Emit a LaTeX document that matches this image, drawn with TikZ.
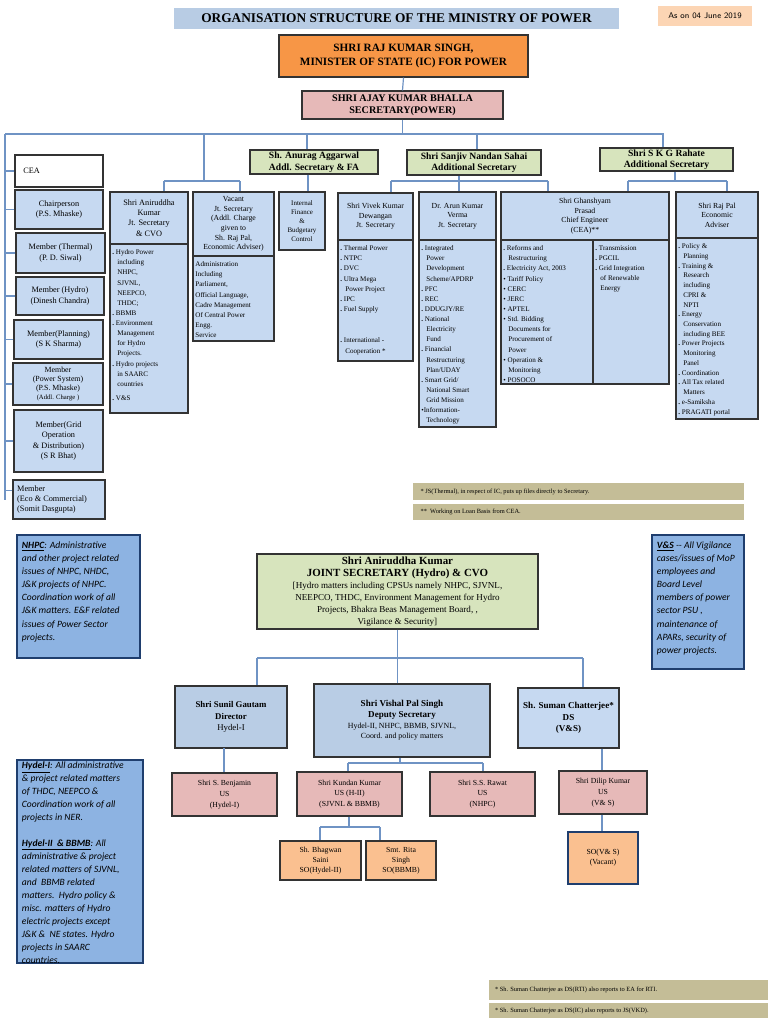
\documentclass[tikz,border=0pt]{standalone}
\usepackage{fontspec}
\setmainfont{Liberation Serif}
\newfontfamily\callfont{Carlito}
\usetikzlibrary{fit}
\definecolor{tblue}{HTML}{B8CCE4}
\definecolor{peach}{HTML}{FCD5B4}
\definecolor{orng}{HTML}{F79646}
\definecolor{pnk}{HTML}{E6B9B8}
\definecolor{grn}{HTML}{D7E4BD}
\definecolor{lblue}{HTML}{C6D9F1}
\definecolor{mblue}{HTML}{B9CDE5}
\definecolor{callb}{HTML}{8DB3E2}
\definecolor{callbd}{HTML}{1F3E6E}
\definecolor{khaki}{HTML}{C4BD97}
\definecolor{soor}{HTML}{FAC090}
\definecolor{lnc}{HTML}{6F93C4}
\newcommand\bx[8]{\node[#2,fit={(#3,#4)(#5,#6)},inner sep=0pt] (#1) {};
  \node[#7,align=center] at (#1.center) {#8};}
\newcommand\ind{\hspace*{0.7em}}
\newcommand\dt{\textbf{.}}
\newcommand\bul{\textbullet}
\begin{document}
\begin{tikzpicture}[x=0.75pt,y=-0.75pt,
  bd/.style={draw=black!80,line width=0.8pt},
  lb/.style={bd,fill=lblue},
  ln/.style={draw=lnc,line width=0.9pt},
  sm/.style={font=\fontsize{5.8}{7.2}\selectfont},
  smb/.style={font=\fontsize{6.2}{7.6}\selectfont},
  lst/.style={font=\fontsize{5.3}{7.6}\selectfont,align=left,anchor=north west,inner sep=1pt,yshift=-3.5pt,xshift=1pt},
  call/.style={font=\callfont\itshape\fontsize{7.2}{9.8}\selectfont,align=left,anchor=north west,inner sep=1pt},
  fn/.style={font=\fontsize{4.8}{6}\selectfont,anchor=west}]
\fill[white] (0,0) rectangle (768,1024);
\useasboundingbox (0,0) rectangle (768,1024);
% top
\bx{title}{fill=tblue}{174}{8}{619}{29}{font=\fontsize{10}{12}\selectfont\bfseries}{ORGANISATION STRUCTURE OF THE MINISTRY OF POWER}
\bx{ason}{fill=peach}{658}{6}{752}{26}{font=\fontsize{6.2}{7}\selectfont\sffamily}{As on 04 June 2019}
\bx{min}{bd,fill=orng}{279}{35}{528}{77}{font=\fontsize{8.4}{10.5}\selectfont\bfseries}{SHRI RAJ KUMAR SINGH,\\MINISTER OF STATE (IC) FOR POWER}
\bx{sec}{bd,fill=pnk}{302}{91}{503}{119}{font=\fontsize{7.6}{9.2}\selectfont\bfseries}{SHRI AJAY KUMAR BHALLA\\SECRETARY(POWER)}
\draw[ln] (min.south) -- (sec.north);
\bx{anu}{bd,fill=grn}{250}{150}{378}{174}{font=\fontsize{7.2}{8.6}\selectfont\bfseries}{Sh. Anurag Aggarwal\\Addl. Secretary \& FA}
\bx{san}{bd,fill=grn}{407}{150}{541}{175}{font=\fontsize{7.2}{8.6}\selectfont\bfseries}{Shri Sanjiv Nandan Sahai\\Additional Secretary}
\bx{rah}{bd,fill=grn}{600}{148}{733}{171}{font=\fontsize{7.2}{8.4}\selectfont\bfseries}{Shri S K G Rahate\\Additional Secretary}
\coordinate (busL) at (5,134); \coordinate (busR) at (663,134);
\coordinate (b1) at (204,134); \coordinate (b2) at (204,181);
\draw[ln] (sec.south) -- (sec.south |- busL);
\draw[ln] (busL) -- (busR) -- (rah.north -| busR);
\draw[ln] (b1) -- (b2);
\draw[ln] (anu.north -| 307,0) -- (307,134);
\draw[ln] (san.north -| 477,0) -- (477,134);
% left column
\bx{cea}{bd,fill=white}{15}{155}{103}{187}{smb,anchor=west}{}
\node[smb,anchor=west] at (cea.west) {\ \ CEA};
\bx{c1}{lb}{15}{190}{103}{229}{smb}{Chairperson\\(P.S. Mhaske)}
\bx{c2}{lb}{16}{233}{105}{273}{smb}{Member (Thermal)\\(P. D. Siwal)}
\bx{c3}{lb}{16}{277}{104}{315}{smb}{Member (Hydro)\\(Dinesh Chandra)}
\bx{c4}{lb}{14}{320}{103}{359}{smb}{Member(Planning)\\(S K Sharma)}
\bx{c5}{lb}{13}{363}{103}{405}{font=\fontsize{5.9}{6.9}\selectfont}{Member\\(Power System)\\(P.S. Mhaske)\\{\fontsize{5}{6}\selectfont(Addl. Charge )}}
\bx{c6}{lb}{14}{410}{103}{472}{smb}{Member(Grid\\Operation\\\& Distribution)\\(S R Bhat)}
\bx{c7}{lb}{13}{480}{105}{519}{smb}{}
\node[smb,align=left,anchor=west] at (c7.west) {Member\\(Eco \& Commercial)\\(Somit Dasgupta)};
\coordinate (lbot) at (5,500);
\draw[ln] (busL) -- (lbot);
\foreach \n in {cea,c1,c2,c3,c4,c5,c6} \draw[ln] (\n.west) -- (\n.west -| busL);
\draw[ln] (c7.west) ++(0,-9) coordinate (c7s) -- (c7s -| busL);
% Anurag branch
\bx{ani}{lb}{110}{192}{188}{244}{smb}{Shri Aniruddha\\Kumar\\Jt. Secretary\\\& CVO}
\bx{aniB}{lb}{110}{244}{188}{413}{}{}
\node[lst] at (aniB.north west) {\dt\ Hydro Power\\\ind including\\\ind NHPC,\\\ind SJVNL,\\\ind NEEPCO,\\\ind THDC;\\\dt\ BBMB\\\dt\ Environment\\\ind Management\\\ind for Hydro\\\ind Projects.\\\dt\ Hydro projects\\\ind in SAARC\\\ind countries\\[3pt]\dt\ V\&S};
\bx{vac}{lb}{193}{192}{274}{256}{sm}{Vacant\\Jt. Secretary\\(Addl. Charge\\given to\\Sh. Raj Pal,\\Economic Adviser)}
\bx{vacB}{lb}{193}{256}{274}{341}{}{}
\node[lst] at (vacB.north west) {Administration\\Including\\Parliament,\\Official Language,\\Cadre Management\\Of Central Power\\Engg.\\Service};
\bx{ifin}{lb}{279}{192}{325}{250}{font=\fontsize{5.2}{6.8}\selectfont}{Internal\\Finance\\\&\\Budgetary\\Control}
\draw[ln] (164,181) -- (240,181);
\draw[ln] (164,181) -- (ani.north -| 164,0);
\draw[ln] (240,181) -- (vac.north -| 240,0);
\draw[ln] (anu.south -| 308,0) -- (ifin.north -| 308,0);
% Sanjiv branch
\bx{viv}{lb}{338}{193}{413}{240}{sm}{Shri Vivek Kumar\\Dewangan\\Jt. Secretary}
\bx{vivB}{lb}{338}{240}{413}{361}{}{}
\node[lst] at (vivB.north west) {\dt\ Thermal Power\\\dt\ NTPC\\\dt\ DVC\\\dt\ Ultra Mega\\\ind Power Project\\\dt\ IPC\\\dt\ Fuel Supply\\[16pt]\dt\ International -\\\ind Cooperation *};
\bx{aru}{lb}{419}{192}{496}{240}{sm}{Dr. Arun Kumar\\Verma\\Jt. Secretary}
\bx{aruB}{lb}{419}{240}{496}{427}{}{}
\node[lst] at (aruB.north west) {\dt\ Integrated\\\ind Power\\\ind Development\\\ind Scheme/APDRP\\\dt\ PFC\\\dt\ REC\\\dt\ DDUGJY/RE\\\dt\ National\\\ind Electricity\\\ind Fund\\\dt\ Financial\\\ind Restructuring\\\ind Plan/UDAY\\\dt\ Smart Grid/\\\ind National Smart\\\ind Grid Mission\\\bul Information-\\\ind Technology};
\bx{gha}{lb}{501}{192}{669}{240}{sm}{Shri Ghanshyam\\Prasad\\Chief Engineer\\(CEA)**}
\bx{ghaL}{lb}{501}{240}{593}{384}{}{}
\bx{ghaR}{lb}{593}{240}{669}{384}{}{}
\node[lst] at (ghaL.north west) {\dt\ Reforms and\\\ind Restructuring\\\dt\ Electricity Act, 2003\\\bul\ Tariff Policy\\\bul\ CERC\\\bul\ JERC\\\bul\ APTEL\\\bul\ Std. Bidding\\\ind Documents for\\\ind Procurement of\\\ind Power\\\bul\ Operation \&\\\ind Monitoring\\\bul\ POSOCO};
\node[lst] at (ghaR.north west) {\dt\ Transmission\\\dt\ PGCIL\\\dt\ Grid Integration\\\ind of Renewable\\\ind Energy};
\bx{raj}{lb}{676}{192}{758}{238}{sm}{Shri Raj Pal\\Economic\\Adviser}
\bx{rajB}{lb}{676}{238}{758}{419}{}{}
\node[lst,font=\fontsize{5.3}{7.3}\selectfont] at (rajB.north west) {\dt\ Policy \&\\\ind Planning\\\dt\ Training \&\\\ind Research\\\ind including\\\ind CPRI \&\\\ind NPTI\\\dt\ Energy\\\ind Conservation\\\ind including BEE\\\dt\ Power Projects\\\ind Monitoring\\\ind Panel\\\dt\ Coordination\\\dt\ All Tax related\\\ind Matters\\\dt\ e-Samiksha\\\dt\ PRAGATI portal};
\draw[ln] (san.south -| 459,0) -- (459,181);
\draw[ln] (391,181) -- (548,181);
\draw[ln] (391,181) -- (viv.north -| 391,0);
\draw[ln] (459,181) -- (aru.north -| 459,0);
\draw[ln] (548,181) -- (gha.north -| 548,0);
\draw[ln] (rah.south -| 675,0) -- (675,181);
\draw[ln] (628,181) -- (727,181);
\draw[ln] (628,181) -- (gha.north -| 628,0);
\draw[ln] (727,181) -- (raj.north -| 727,0);
% footnotes
\bx{f1}{fill=khaki}{413}{483}{744}{500}{}{}
\node[fn] at (f1.west) {\ \ * JS(Thermal), in respect of IC, puts up files directly to Secretary.};
\bx{f2}{fill=khaki}{413}{504}{744}{520}{}{}
\node[fn] at (f2.west) {\ \ **\ \ Working on Loan Basis from CEA.};
% callouts
\bx{nhpc}{draw=callbd,line width=1pt,fill=callb}{17}{535}{140}{658}{}{}
\node[call] at ([shift={(4,6)}]nhpc.north west) {\textbf{\underline{NHPC}}: Administrative\\and other project related\\issues of NHPC, NHDC,\\J\&K projects of NHPC.\\Coordination work of all\\J\&K matters. E\&F related\\issues of Power Sector\\projects.};
\bx{vs}{draw=callbd,line width=1pt,fill=callb}{652}{535}{744}{669}{}{}
\node[call] at ([shift={(4,6)}]vs.north west) {\textbf{\underline{V\&S}} -- All Vigilance\\cases/issues of MoP\\employees and\\Board Level\\members of power\\sector PSU ,\\maintenance of\\APARs, security of\\power projects.};
\bx{hyd}{draw=callbd,line width=1pt,fill=callb}{17}{760}{143}{963}{}{}
\node[call] at ([shift={(4,1)}]hyd.north west) {\textbf{\underline{Hydel-I}}: All administrative\\\& project related matters\\of THDC, NEEPCO \&\\Coordination work of all\\projects in NER.\\[9pt]\textbf{\underline{Hydel-II\ \ \& BBMB}}: All\\administrative \& project\\related matters of SJVNL,\\and\ \ BBMB related\\matters.\ \ Hydro policy \&\\misc. matters of Hydro\\electric projects except\\J\&K \&\ \ NE states. Hydro\\projects in SAARC\\countries.};
% JS Hydro
\bx{jsh}{bd,fill=grn}{257}{554}{538}{629}{}{}
\node[align=center,font=\fontsize{6.8}{9}\selectfont] at (jsh.center) {{\fontsize{8.2}{10}\selectfont\bfseries Shri Aniruddha Kumar}\\{\fontsize{8.2}{10}\selectfont\bfseries JOINT SECRETARY (Hydro) \& CVO}\\{}[Hydro matters including CPSUs namely NHPC, SJVNL,\\NEEPCO, THDC, Environment Management for Hydro\\Projects, Bhakra Beas Management Board, ,\\Vigilance \& Security]};
\bx{sun}{bd,fill=mblue}{175}{686}{287}{748}{}{}
\node[align=center,font=\fontsize{6.6}{8.6}\selectfont] at (sun.center) {\textbf{Shri Sunil Gautam}\\\textbf{Director}\\Hydel-I};
\bx{vis}{bd,fill=mblue}{314}{684}{490}{757}{}{}
\node[align=center,font=\fontsize{5.9}{8}\selectfont] at (vis.center) {{\fontsize{6.8}{8.6}\selectfont\bfseries Shri Vishal Pal Singh}\\{\fontsize{6.8}{8.6}\selectfont\bfseries Deputy Secretary}\\Hydel-II, NHPC, BBMB, SJVNL,\\Coord. and policy matters};
\bx{sum}{bd,fill=lblue}{518}{688}{619}{748}{font=\fontsize{6.8}{8.8}\selectfont\bfseries}{Sh. Suman Chatterjee*\\DS\\(V\&S)}
\coordinate (hL) at (257,658); \coordinate (hR) at (583,658);
\draw[ln] (jsh.south) -- (jsh.south |- hL);
\draw[ln] (hL) -- (hR);
\draw[ln] (hL) -- (sun.north -| hL);
\draw[ln] (vis.north -| jsh.south) -- (jsh.south |- hL);
\draw[ln] (hR) -- (sum.north -| hR);
% US level
\bx{ben}{bd,fill=pnk}{172}{773}{277}{816}{font=\fontsize{5.8}{8}\selectfont}{Shri S. Benjamin\\US\\(Hydel-I)}
\bx{kun}{bd,fill=pnk}{297}{772}{402}{816}{font=\fontsize{5.8}{8}\selectfont}{Shri Kundan Kumar\\US (H-II)\\(SJVNL \& BBMB)}
\bx{raw}{bd,fill=pnk}{430}{772}{535}{816}{font=\fontsize{5.8}{8}\selectfont}{Shri S.S. Rawat\\US\\(NHPC)}
\bx{dil}{bd,fill=pnk}{559}{771}{647}{814}{font=\fontsize{5.8}{8}\selectfont}{Shri Dilip Kumar\\US\\(V\& S)}
\draw[ln] (224,748) -- (ben.north -| 224,0);
\draw[ln] (vis.south -| 400,0) -- (400,763);
\draw[ln] (348,763) -- (483,763);
\draw[ln] (348,763) -- (kun.north -| 348,0);
\draw[ln] (483,763) -- (raw.north -| 483,0);
\draw[ln] (sum.south -| 602,0) -- (dil.north -| 602,0);
\bx{bha}{draw=black!80,line width=1pt,fill=soor}{280}{841}{361}{880}{font=\fontsize{5.8}{7.6}\selectfont}{Sh. Bhagwan\\Saini\\SO(Hydel-II)}
\bx{rit}{draw=black!80,line width=1pt,fill=soor}{366}{841}{436}{880}{font=\fontsize{5.8}{7.6}\selectfont}{Smt. Rita\\Singh\\SO(BBMB)}
\bx{sov}{draw=callbd,line width=1pt,fill=soor}{568}{832}{638}{884}{font=\fontsize{5.8}{7.6}\selectfont}{SO(V\& S)\\(Vacant)}
\draw[ln] (kun.south -| 349,0) -- (349,827);
\draw[ln] (320,827) -- (380,827);
\draw[ln] (320,827) -- (bha.north -| 320,0);
\draw[ln] (380,827) -- (rit.north -| 380,0);
\draw[ln] (dil.south -| 602,0) -- (sov.north -| 602,0);
% bottom footnotes
\bx{f3}{fill=khaki}{489}{980}{768}{1000}{}{}
\node[fn] at (f3.west) {\ * Sh. Suman Chatterjee as DS(RTI) also reports to EA for RTI.};
\bx{f4}{fill=khaki}{489}{1003}{768}{1018}{}{}
\node[fn] at (f4.west) {\ * Sh. Suman Chatterjee as DS(IC) also reports to JS(VKD).};
\end{tikzpicture}
\end{document}
